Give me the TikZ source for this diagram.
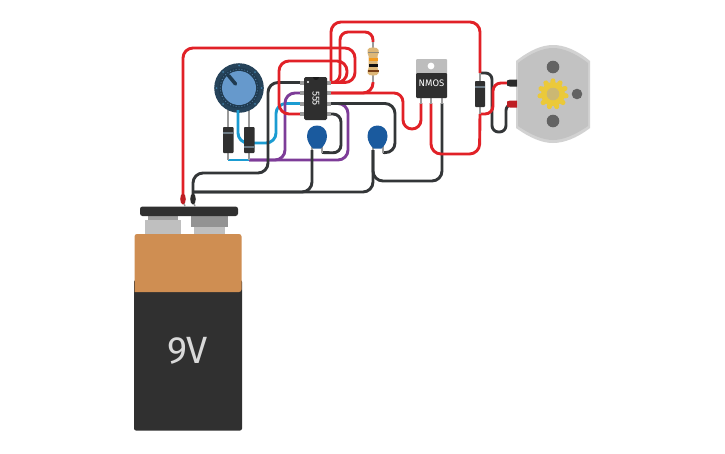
\documentclass[tikz,border=0pt]{standalone}
\usepackage{fontspec}
\setmainfont{Fira Sans}
\usetikzlibrary{calc}
\definecolor{wred}{HTML}{E12127}
\definecolor{wblack}{HTML}{333638}
\definecolor{wpurple}{HTML}{7D3C98}
\definecolor{wblue}{HTML}{1B9CD2}
\definecolor{lead}{HTML}{9A9A9A}
\definecolor{dark}{HTML}{303030}
\definecolor{capblue}{HTML}{1A5A9E}
\definecolor{batorange}{HTML}{CF8E52}
\definecolor{motorout}{HTML}{D2D2D2}
\definecolor{motorin}{HTML}{C2C2C2}
\definecolor{motorhole}{HTML}{636363}
\definecolor{gearc}{HTML}{EBC93A}
\definecolor{hubc}{HTML}{CBB873}
\definecolor{potout}{HTML}{26435A}
\definecolor{potring}{HTML}{1F3A50}
\definecolor{pottick}{HTML}{5B87AE}
\definecolor{potface}{HTML}{6699CC}
\definecolor{potdot}{HTML}{3F7FA8}
\definecolor{stripe}{HTML}{6D7B85}
\definecolor{clipblack}{HTML}{2B2B2B}
\definecolor{clipred}{HTML}{BE1E24}
\definecolor{icbody}{HTML}{2F2F2F}
\definecolor{icnotch}{HTML}{1A1A1A}
\definecolor{restan}{HTML}{DDB778}
\definecolor{resa}{HTML}{8F8A7A}
\definecolor{resb}{HTML}{F39A1E}
\definecolor{resc}{HTML}{111111}
\definecolor{resd}{HTML}{7A3F17}
\definecolor{tabgray}{HTML}{BDBDBD}
\tikzset{
 wire/.style={line width=2.9pt,rounded corners=10pt,line join=round},
 redw/.style={wire,draw=wred},
 blackw/.style={wire,draw=wblack},
 purplew/.style={wire,draw=wpurple},
 bluew/.style={wire,draw=wblue},
 leadw/.style={line width=2.4pt,draw=lead},
 diodebody/.style={fill=dark,rounded corners=0.8pt,draw=none},
 ictext/.style={text=white,font=\fontsize{9}{9}\selectfont,inner sep=0pt},
}
\begin{document}
\begin{tikzpicture}[x=1pt,y=-1pt]
\fill[white] (0,0) rectangle (725,453);
\useasboundingbox (0,0) rectangle (725,453);
% named pins
\coordinate (batP) at (183,198);
\coordinate (batN) at (193,198);
\coordinate (batJ) at (193,192);
\coordinate (L1) at (300,82.5);
\coordinate (L2) at (300,93);
\coordinate (L3) at (300,103.5);
\coordinate (L4) at (300,114);
\coordinate (R1) at (331,82.5);
\coordinate (R2) at (331,93);
\coordinate (R3) at (331,103.5);
\coordinate (R4) at (331,114);
\coordinate (potA) at (228,110);
\coordinate (potW) at (238,110);
\coordinate (potB) at (249,110);
\coordinate (d1b) at (228,160);
\coordinate (d2b) at (249,160);
\coordinate (d3t) at (480,73);
\coordinate (d3b) at (480,114);
\coordinate (resT) at (373,42);
\coordinate (resB) at (373,82);
\coordinate (nG) at (421,103);
\coordinate (nD) at (431,103);
\coordinate (nS) at (442,103);
\coordinate (c1a) at (312,150);
\coordinate (c1b) at (322,152.5);
\coordinate (c2a) at (373,150);
\coordinate (c2b) at (383,152.5);
\coordinate (mB) at (508,83);
\coordinate (mR) at (508,104);

% battery
\fill[gray!75] (148,216) rectangle (178,220);
\fill[gray!50] (145,220) rectangle (181,235);
\fill[gray!50] (194,226) rectangle (225,235);
\fill[gray!85] (191,216) rectangle (228,227);
\fill[dark,rounded corners=2pt] (134,280) rectangle (242,430.5);
\fill[batorange,rounded corners=2.5pt] (134.5,234) -- (241.5,234) -- (241.5,260) -- (241.5,292) [sharp corners] -- (134.5,292) [rounded corners=2.5pt] -- (134.5,260) -- cycle;
\fill[dark,rounded corners=2.5pt] (140,206.5) rectangle (238,216);
\node[inner sep=0pt,text=white!85!black,font=\fontsize{38}{38}\selectfont] (lab9v) at (187.5,351) {9V};

% motor
\fill[motorout] (516,61) .. controls (530,50) and (542,45) .. (553,45) .. controls (564,45) and (577,50) .. (590,61) -- (590,128) .. controls (577,138) and (564,143) .. (553,143) .. controls (542,143) and (530,138) .. (516,128) -- cycle;
\fill[motorin] (518,63) .. controls (531,53) and (543,48) .. (553,48) .. controls (563,48) and (575,53) .. (588,63) -- (588,126) .. controls (575,135) and (563,140) .. (553,140) .. controls (543,140) and (531,135) .. (518,126) -- cycle;
\fill[motorhole] (553,67) circle (6.3);
\fill[motorhole] (553,121) circle (6.3);
\fill[motorhole] (577,94) circle (5.3);
\foreach \a in {0,32.73,...,350}
  \draw[gearc,line width=5pt,line cap=round] (553,94) -- ({553+13.2*cos(\a+8)},{94+13.2*sin(\a+8)});
\fill[gearc] (553,94) circle (12);
\fill[hubc] (553,94) circle (6.3);

% pot
\draw[leadw] (potA) -- (228,127);
\draw[leadw] (potB) -- (249,127);
\fill[potout] (239,88) circle (24.8);
\fill[potring] (239,88) circle (20.5);
\foreach \a in {0,9,...,351}
  \fill[pottick] ({239+18.8*cos(\a)},{88+18.8*sin(\a)}) circle (0.55);
\fill[potface] (239,88) circle (17);
\foreach \a in {-90,-45,0,45,135,180,225}
  \fill[potdot] ({239+22.5*cos(\a)},{88+22.5*sin(\a)}) circle (1);
\draw[potring,line width=3.6pt,line cap=round] (228.5,75.5) -- (235.5,84);

% coloured wires
\draw[bluew] (potW) -- (238,143) -- (276,143) -- (276,103.5) -- (L3);
\draw[bluew,rounded corners=0pt] (d1b) -- (d2b);
\draw[purplew] (d2b) -- (285,160) -- (285,93) -- (L2);
\draw[purplew] (d2b) -- (348,160) -- (348,103.5) -- (R3);

% diodes
\draw[leadw] (228,127) -- (d1b);
\draw[leadw] (249,127) -- (d2b);
\fill[diodebody] (223,127) rectangle (233.5,153);
\fill[stripe] (223,131.5) rectangle (233.5,133.5);
\fill[diodebody] (244,127) rectangle (254.5,153);
\fill[stripe] (244,146) rectangle (254.5,148);

% black wires
\draw[blackw,rounded corners=8pt] (R4) -- (341,114) -- (341,153) -- (c1b);
\draw[blackw] (R3) -- (395,103.5) -- (395,153) -- (c2b);
\draw[blackw] (batN) -- (193,173) -- (268,173) -- (268,82.5) -- (L1);
\draw[blackw] (batJ) -- (312,192) -- (c1a);
\draw[blackw] (batJ) -- (373,192) -- (c2a);
\draw[blackw] (c2a) -- (373,181) -- (442,181) -- (nS);
\draw[blackw,rounded corners=6.5pt] (d3t) -- (492,73) -- (492,132) -- (506,132) -- (506,104) -- (mR);

% red wires
\draw[redw] (batP) -- (183,48) -- (355,48) -- (355,82.5) -- (R1);
\draw[redw] (L4) -- (279,114) -- (279,61) -- (347,61) -- (347,82.5) -- (R1);
\draw[redw] (R1) -- (331,22) -- (480,22) -- (d3t);
\draw[redw,rounded corners=8pt] (R1) -- (340,82.5) -- (340,32) -- (373,32) -- (resT);
\draw[redw] (R2) -- (373,93) -- (resB);
\draw[redw,rounded corners=9pt] (R2) -- (403,93) -- (403,129) -- (421,129) -- (nG);
\draw[redw] (nD) -- (431,154) -- (479.5,154) -- (d3b);
\draw[redw,rounded corners=8pt] (d3b) -- (493,114) -- (493,83) -- (mB);

% diode 3
\draw[leadw] (d3t) -- (d3b);
\fill[diodebody] (475,81) rectangle (485,107);
\fill[stripe] (475,85.5) rectangle (485,87.5);

% motor terminals
\fill[clipblack] (507,80.5) -- (510,79.5) -- (517,79.5) -- (517,86.5) -- (510,86.5) -- (507,85.5) -- cycle;
\fill[clipred] (507,101.5) -- (510,100.5) -- (517,100.5) -- (517,107.5) -- (510,107.5) -- (507,106.5) -- cycle;

% battery clips
\draw[lead,line width=1.4pt] (183,200) -- (185,206.5);
\draw[lead,line width=1.4pt] (193,200) -- (195,206.5);
\fill[clipred] (183,199) ellipse (2.8 and 5.5);
\fill[clipblack] (193,199) ellipse (2.8 and 5.5);

% 555
\foreach \n in {L1,L2,L3,L4} \fill[lead] ($(\n)+(0,-2)$) rectangle ($(\n)+(5,2)$);
\foreach \n in {R1,R2,R3,R4} \fill[lead] ($(\n)+(-5,-2)$) rectangle ($(\n)+(0,2)$);
\fill[icbody,rounded corners=1.5pt] (304,77) rectangle (327,120);
\fill[icnotch] (312.5,77) .. controls (312.5,81) and (318.5,81) .. (318.5,77) -- cycle;
\fill[white] (308,82) circle (1.1);
\node[ictext,rotate=-90,font=\fontsize{10}{10}\selectfont] (ic555) at (316,98.5) {555};

% resistor
\draw[leadw] (resT) -- (resB);
\fill[restan] (367.5,50) .. controls (367.5,46.5) and (378.5,46.5) .. (378.5,50) -- (378.5,53) .. controls (378.5,55) and (377.5,55) .. (377.5,56) -- (377.5,68) .. controls (377.5,69) and (378.5,69) .. (378.5,71) -- (378.5,73) .. controls (378.5,76.5) and (367.5,76.5) .. (367.5,73) -- (367.5,71) .. controls (367.5,69) and (368.5,69) .. (368.5,68) -- (368.5,56) .. controls (368.5,55) and (367.5,55) .. (367.5,53) -- cycle;
\fill[resa] (367.5,51.5) rectangle (378.5,52.5);
\fill[resb] (368.5,57.5) rectangle (377.5,61);
\fill[resc] (368.5,63.5) rectangle (377.5,66.5);
\fill[resd] (367.5,69.5) rectangle (378.5,72);

% capacitors
\foreach \x/\n in {312/c1a,322/c1b,373/c2a,383/c2b}
  \draw[leadw] (\x,146) -- (\n);
\foreach \cx in {317,377.5}
  \fill[capblue] (\cx-10,136) .. controls (\cx-10,122) and (\cx+10,122) .. (\cx+10,136) .. controls (\cx+10,141) and (\cx+7,146) .. (\cx+4,148.5) -- (\cx-4,148.5) .. controls (\cx-7,146) and (\cx-10,141) .. (\cx-10,136) -- cycle;

% NMOS
\foreach \x in {421,431,442} \draw[leadw] (\x,97) -- (\x,104);
\fill[tabgray,rounded corners=1pt] (416,59) rectangle (447,74);
\fill[white] (431,66) circle (3.4);
\fill[icbody,rounded corners=1pt] (416,73) rectangle (447,98);
\node[ictext,font=\fontsize{9.5}{9.5}\selectfont] (nmos) at (431.5,83.5) {NMOS};
\end{tikzpicture}
\end{document}
